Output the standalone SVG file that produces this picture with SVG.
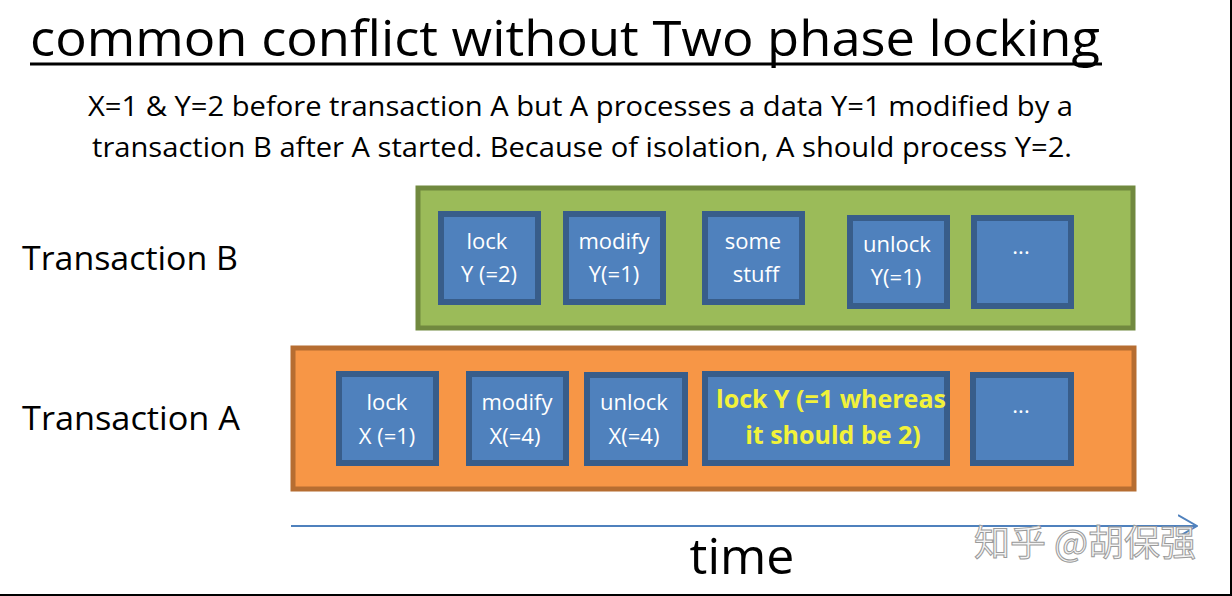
<svg xmlns="http://www.w3.org/2000/svg" width="1232" height="596" viewBox="0 0 1232 596">
<style>
.t{font-family:"Open Sans","Liberation Sans",sans-serif;fill:#000}
.bt{font-family:"Open Sans","Liberation Sans",sans-serif;fill:#fff;font-size:22px;text-anchor:middle}
.yt{font-family:"Open Sans","Liberation Sans",sans-serif;fill:#F2F23A;font-size:25px;font-weight:bold;text-anchor:middle}
.blue{fill:#4F81BD;stroke:#385D8A;stroke-width:6}
</style>
<defs>
<marker id="arr" viewBox="0 0 20 24" refX="19" refY="12" markerWidth="20" markerHeight="24" markerUnits="userSpaceOnUse" orient="auto">
<path d="M0,1 L19,12 L0,23" fill="none" stroke="#4F81BD" stroke-width="2"/>
</marker>
</defs>
<rect width="1232" height="596" fill="#fff"/>
<line x1="1231" y1="0" x2="1231" y2="596" stroke="#000" stroke-width="2"/>
<line x1="0" y1="595" x2="1232" y2="595" stroke="#000" stroke-width="2"/>

<g id="title">
<text class="t" x="30" y="56" font-size="50" textLength="1070" lengthAdjust="spacingAndGlyphs">common conflict without Two phase locking</text>
<line x1="30" y1="64" x2="1102" y2="64" stroke="#000" stroke-width="3"/>
</g>
<g id="subtitle">
<text class="t" x="88" y="116" font-size="28" textLength="985" lengthAdjust="spacingAndGlyphs">X=1 &amp; Y=2 before transaction A but A processes a data Y=1 modified by a</text>
<text class="t" x="92" y="157" font-size="28" textLength="980" lengthAdjust="spacingAndGlyphs">transaction B after A started. Because of isolation, A should process Y=2.</text>
</g>

<g id="labelB"><text class="t" x="22" y="270" font-size="32" textLength="216" lengthAdjust="spacingAndGlyphs">Transaction B</text></g>
<g id="labelA"><text class="t" x="22" y="430" font-size="32" textLength="218" lengthAdjust="spacingAndGlyphs">Transaction A</text></g>

<g id="transactionB">
<rect x="418" y="188" width="715" height="140" fill="#9BBB59" stroke="#71893F" stroke-width="5"/>
</g>
<g id="transactionA">
<rect x="293" y="348" width="841" height="141" fill="#F79646" stroke="#B66D31" stroke-width="5"/>
</g>

<g id="b1"><rect class="blue" x="441" y="214" width="97" height="88"/><text class="bt" x="487" y="249">lock</text><text class="bt" x="489" y="282">Y (=2)</text></g>
<g id="b2"><rect class="blue" x="566" y="214" width="97" height="88"/><text class="bt" x="614" y="249">modify</text><text class="bt" x="614" y="282">Y(=1)</text></g>
<g id="b3"><rect class="blue" x="705" y="214" width="97" height="88"/><text class="bt" x="753" y="249">some</text><text class="bt" x="756" y="282">stuff</text></g>
<g id="b4"><rect class="blue" x="850" y="218" width="97" height="88"/><text class="bt" x="897" y="252">unlock</text><text class="bt" x="896" y="285">Y(=1)</text></g>
<g id="b5"><rect class="blue" x="974" y="218" width="97" height="88"/><text class="bt" x="1021" y="254">...</text></g>

<g id="a1"><rect class="blue" x="339" y="374" width="97" height="89"/><text class="bt" x="387" y="410">lock</text><text class="bt" x="387" y="444">X (=1)</text></g>
<g id="a2"><rect class="blue" x="469" y="374" width="97" height="89"/><text class="bt" x="517" y="410">modify</text><text class="bt" x="515" y="444">X(=4)</text></g>
<g id="a3"><rect class="blue" x="587" y="375" width="98" height="88"/><text class="bt" x="634" y="410">unlock</text><text class="bt" x="634" y="444">X(=4)</text></g>
<g id="a4"><rect class="blue" x="705" y="374" width="242" height="89"/><text class="yt" x="831" y="408">lock Y (=1 whereas</text><text class="yt" x="833" y="444">it should be 2)</text></g>
<g id="a5"><rect class="blue" x="973" y="375" width="98" height="88"/><text class="bt" x="1021" y="413">...</text></g>

<g id="connectors">
<line x1="291" y1="526" x2="1197" y2="526" stroke="#4F81BD" stroke-width="2" marker-end="url(#arr)"/>
</g>
<g id="timeLabel"><text class="t" x="742" y="574" font-size="50" text-anchor="middle">time</text></g>
<g id="watermark"><text x="1085" y="556" font-size="36" text-anchor="middle" fill="#f4f4f4" stroke="#9a9a9a" stroke-width="1" font-family="'Noto Sans CJK SC',sans-serif">知乎 @胡保强</text></g>
</svg>
